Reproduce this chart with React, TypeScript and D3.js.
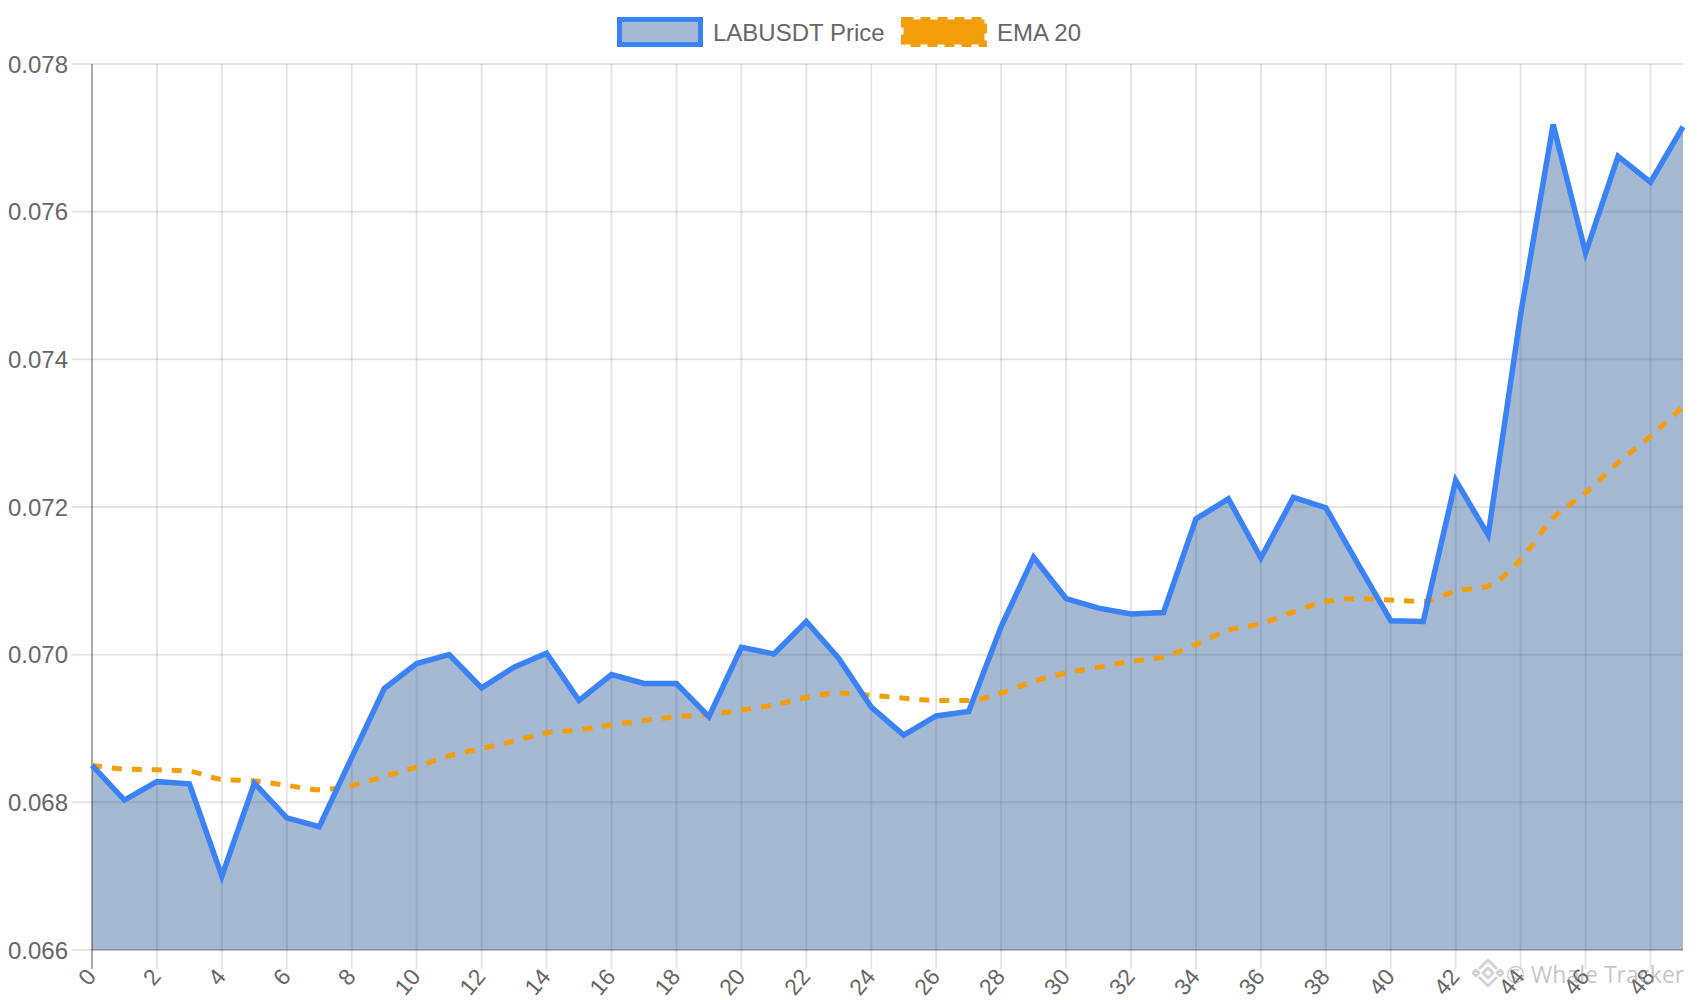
// Price vs EMA 20 chart: blue filled price line, dashed orange EMA, Chart.js look.
import * as d3 from "d3";

const labels = [
  "0", "1", "2", "3", "4", "5", "6", "7", "8", "9",
  "10", "11", "12", "13", "14", "15", "16", "17", "18", "19",
  "20", "21", "22", "23", "24", "25", "26", "27", "28", "29",
  "30", "31", "32", "33", "34", "35", "36", "37", "38", "39",
  "40", "41", "42", "43", "44", "45", "46", "47", "48", "49",
];

const price = [
  0.0685, 0.06803, 0.06828, 0.06825, 0.067, 0.06826, 0.06779, 0.06767, 0.06861, 0.06954,
  0.06988, 0.07, 0.06955, 0.06983, 0.07002, 0.06938, 0.06973, 0.06961, 0.06961, 0.06916,
  0.0701, 0.07001, 0.07045, 0.06995, 0.06929, 0.06891, 0.06917, 0.06923, 0.07038, 0.07132,
  0.07076, 0.07063, 0.07055, 0.07057, 0.07184, 0.07211, 0.07131, 0.07213, 0.07199, 0.07122,
  0.07046, 0.07045, 0.07236, 0.07162, 0.07461, 0.07718, 0.07544, 0.07675, 0.0764, 0.07715,
];

const ema20 = [
  0.0685, 0.06845, 0.06844, 0.06842, 0.06831, 0.06829, 0.06823, 0.06817, 0.06823, 0.06835,
  0.06848, 0.06863, 0.06873, 0.06883, 0.06894, 0.06898, 0.06905, 0.06911, 0.06916, 0.06919,
  0.06925, 0.06932, 0.06942, 0.06948, 0.06945, 0.06941, 0.06938, 0.06938, 0.06948, 0.06964,
  0.06975, 0.06983, 0.06991, 0.06997, 0.07014, 0.07033, 0.07042, 0.07058, 0.07072, 0.07076,
  0.07074, 0.07072, 0.07086, 0.07093, 0.07129, 0.07185, 0.07219, 0.0726, 0.07296, 0.07336,
];

const yTicks = [0.066, 0.068, 0.07, 0.072, 0.074, 0.076, 0.078];

const FONT = "'Liberation Sans', Arial, Helvetica, sans-serif";
const BLUE = "#3b82f6";
const ORANGE = "#f59e0b";
const FILL = "rgba(33, 80, 145, 0.4)";
const GRID = "rgba(0, 0, 0, 0.1)";
const DASH = "10 10";
const MARK = "rgba(150,150,150,0.45)";

export default function App() {
  const x = d3.scaleLinear().domain([0, labels.length - 1]).range([92, 1683]);
  const y = d3.scaleLinear().domain([0.066, 0.078]).range([950, 64]);
  const [x0, x1] = x.range();
  const [yBottom, yTop] = y.range();

  const line = d3
    .line<number>()
    .x((_, i) => x(i))
    .y((d) => y(d));
  const area = d3
    .area<number>()
    .x((_, i) => x(i))
    .y0(yBottom)
    .y1((d) => y(d));
  const emaLine = d3
    .line<number>()
    .x((_, i) => x(i))
    .y((d) => y(d))
    .curve(d3.curveMonotoneX);

  const shownTicks = labels.map((_, i) => i).filter((i) => i % 2 === 0);

  return (
    <>
      <style>{`body{margin:0}`}</style>
      <svg width={1700} height={1000} style={{ display: "block", fontFamily: FONT }}>
        <rect width={1700} height={1000} fill="#fff" />

        {/* grid, with tick marks running past the axes */}
        {yTicks.map((t) => (
          <line key={t} x1={72} x2={x1} y1={y(t)} y2={y(t)} stroke={GRID} strokeWidth={2} />
        ))}
        {shownTicks.map((i) => (
          <line key={i} x1={x(i)} x2={x(i)} y1={yTop} y2={yBottom + 19} stroke={GRID} strokeWidth={2} />
        ))}

        {/* price fill, then EMA, then price line on top */}
        <path d={area(price) ?? ""} fill={FILL} />
        <line x1={x0} x2={x0} y1={yTop} y2={yBottom + 19} stroke="rgba(0,0,0,0.25)" strokeWidth={2} />
        <line x1={x0} x2={x1} y1={yBottom} y2={yBottom} stroke="rgba(0,0,0,0.15)" strokeWidth={2} />
        <path d={emaLine(ema20) ?? ""} fill="none" stroke={ORANGE} strokeWidth={5} strokeDasharray={DASH} />
        <path d={line(price) ?? ""} fill="none" stroke={BLUE} strokeWidth={5.5} strokeLinejoin="miter" />

        {/* y labels */}
        {yTicks.map((t) => (
          <text key={t} x={68} y={y(t)} textAnchor="end" dominantBaseline="central" fontSize={24} fill="#666">
            {t.toFixed(3)}
          </text>
        ))}

        {/* x labels, rotated like Chart.js */}
        {shownTicks.map((i) => (
          <text
            key={i}
            transform={`translate(${x(i) - 1},${yBottom + 22}) rotate(-50)`}
            textAnchor="end"
            dominantBaseline="central"
            fontSize={23}
            fill="#666"
          >
            {labels[i]}
          </text>
        ))}

        {/* legend */}
        <rect x={619.5} y={19.5} width={81} height={25} fill={FILL} stroke={BLUE} strokeWidth={5} />
        <text x={713} y={32} dominantBaseline="central" fontSize={24} fill="#666">LABUSDT Price</text>
        <rect x={903.5} y={19.5} width={81} height={25} fill={ORANGE} stroke={ORANGE} strokeWidth={5} strokeDasharray="10 7" />
        <text x={997} y={32} dominantBaseline="central" fontSize={24} fill="#666">EMA 20</text>

        {/* watermark */}
        <g transform="translate(1488,973)" fill="none" stroke={MARK} strokeWidth={2.5} strokeLinejoin="round">
          <path d="M-9,-4 L0,-13 L9,-4" />
          <path d="M-9,4 L0,13 L9,4" />
          <path d="M0,-5 L5,0 L0,5 L-5,0 Z" />
          <path d="M-12,-3 L-9,0 L-12,3 L-15,0 Z" />
          <path d="M12,-3 L15,0 L12,3 L9,0 Z" />
        </g>
        <text
          x={1506}
          y={974}
          dominantBaseline="central"
          fontSize={23}
          fontFamily="'Open Sans', sans-serif"
          fill="rgba(140,140,140,0.5)"
        >
          © Whale Tracker
        </text>
      </svg>
    </>
  );
}
